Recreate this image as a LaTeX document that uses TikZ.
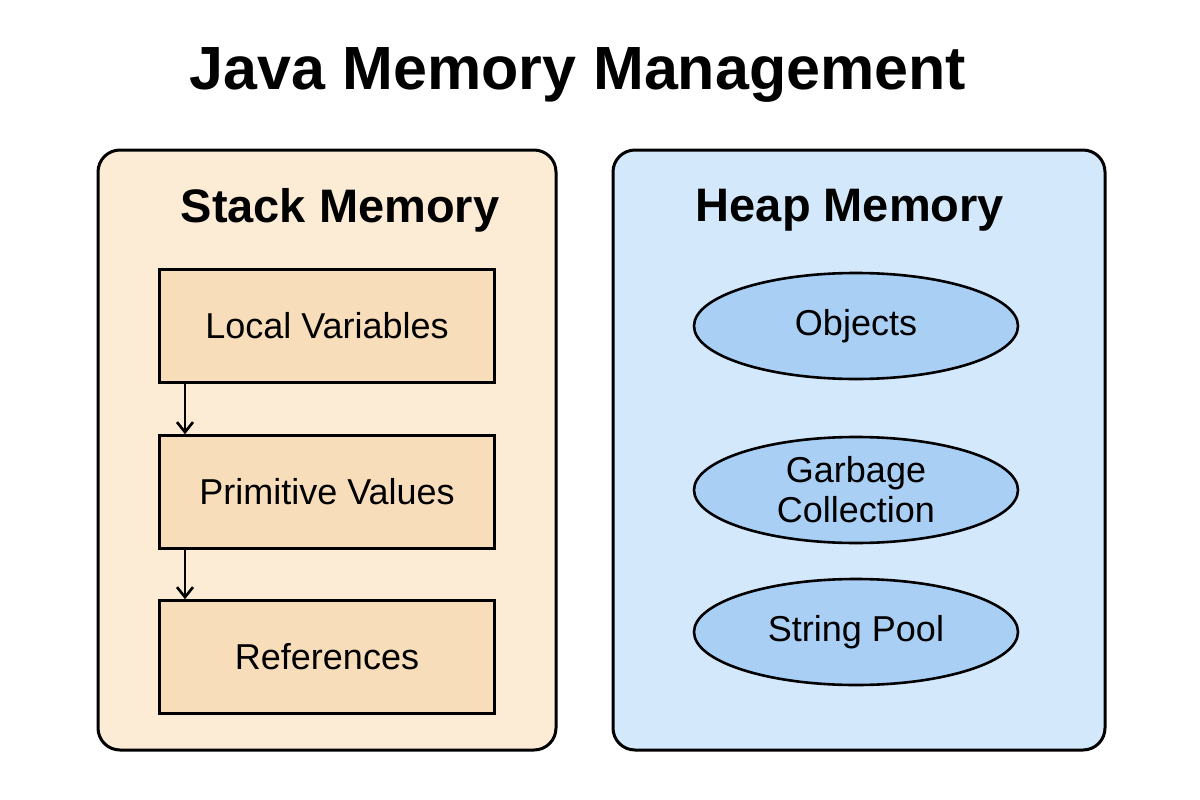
\documentclass[tikz,border=0pt]{standalone}
\usepackage{fontspec}
\setmainfont{Liberation Sans}
\usetikzlibrary{positioning,shapes.geometric,arrows.meta}
\definecolor{stackbg}{HTML}{FCEBD5}
\definecolor{stackbox}{HTML}{F8DDBA}
\definecolor{heapbg}{HTML}{D4E8FB}
\definecolor{heapell}{HTML}{A9CFF5}
\tikzset{
  panel/.style={draw=black, line width=3pt, rounded corners=22pt},
  item/.style={rectangle, draw=black, line width=2.6pt, fill=stackbox, minimum width=335pt, minimum height=113pt, font=\fontsize{36}{42}\selectfont},
  blob/.style={ellipse, draw=black, line width=2.6pt, fill=heapell, minimum width=324pt, minimum height=106pt, inner sep=0pt, align=center, font=\fontsize{36}{40}\selectfont},
  flow/.style={-{Straight Barb[length=10pt,width=16pt]}, line width=2.6pt}
}
\begin{document}
\begin{tikzpicture}[x=1pt,y=-1pt]
  \useasboundingbox (0,0) rectangle (1200,800);
  \node (title) at (578,75) {\fontsize{61}{68}\selectfont\bfseries Java Memory Management};

  \draw[panel, fill=stackbg] (98,150) rectangle (556,750);
  \draw[panel, fill=heapbg] (613,150) rectangle (1105,750);

  \node (stack) at (340,210) {\fontsize{47}{54}\selectfont\bfseries Stack Memory};
  \node (heap) at (850,210) {\fontsize{47}{54}\selectfont\bfseries Heap Memory};

  \node (local) [item] at (327,326) {Local Variables};
  \node (prim) [item] at (327,492) {Primitive Values};
  \node (refs) [item] at (327,657) {References};

  \coordinate (a1) at (185,383);
  \coordinate (a2) at (185,549);
  \draw[flow] (a1) -- (prim.north -| a1);
  \draw[flow] (a2) -- (refs.north -| a2);

  \node (objs) [blob] at (856,326) {Objects};
  \node (gc) [blob] at (856,490) {Garbage\\Collection};
  \node (pool) [blob] at (856,632) {String Pool};
\end{tikzpicture}
\end{document}
